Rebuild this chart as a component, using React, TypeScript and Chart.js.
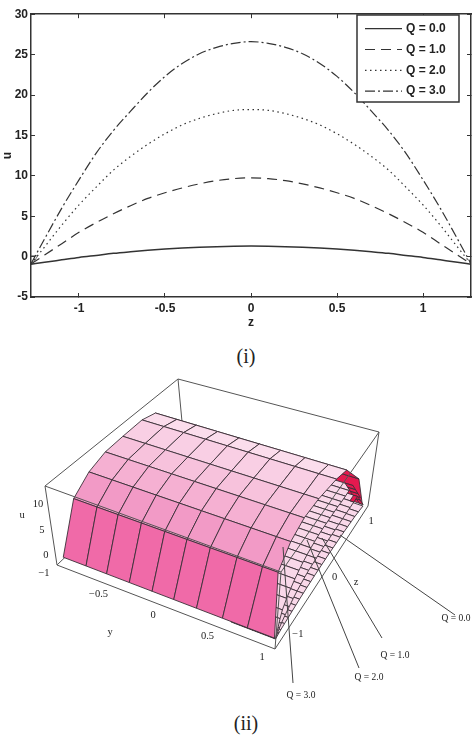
import React, { useEffect, useRef } from 'react';
import { Chart, registerables } from 'chart.js';

Chart.register(...registerables);

// panel (i)
const zValues = [-1.279, -1.2, -1.1, -1, -0.9, -0.8, -0.7, -0.6, -0.5, -0.4, -0.3, -0.2, -0.1, 0, 0.1, 0.2, 0.3, 0.4, 0.5, 0.6, 0.7, 0.8, 0.9, 1, 1.1, 1.2, 1.279];
const uQ0 = [-0.95, -0.7, -0.4, -0.1, 0.15, 0.4, 0.6, 0.78, 0.93, 1.05, 1.15, 1.23, 1.28, 1.3, 1.28, 1.23, 1.15, 1.05, 0.93, 0.78, 0.6, 0.4, 0.15, -0.1, -0.4, -0.7, -0.95];
const uQ1 = [-0.9, 0.2, 1.6, 3.0, 4.2, 5.3, 6.3, 7.2, 7.9, 8.5, 9.0, 9.4, 9.65, 9.75, 9.65, 9.4, 9.0, 8.5, 7.9, 7.2, 6.3, 5.3, 4.2, 3.0, 1.6, 0.2, -0.9];
const uQ2 = [-0.9, 1.2, 3.9, 6.4, 8.6, 10.7, 12.4, 13.9, 15.2, 16.3, 17.1, 17.7, 18.1, 18.2, 18.1, 17.7, 17.1, 16.3, 15.2, 13.9, 12.4, 10.7, 8.6, 6.4, 3.9, 1.2, -0.9];
const uQ3 = [-0.9, 2.2, 6.0, 9.5, 12.8, 15.6, 18.0, 20.3, 22.3, 23.9, 25.1, 25.9, 26.4, 26.6, 26.4, 25.9, 25.1, 23.9, 22.3, 20.3, 18.0, 15.6, 12.8, 9.5, 6.0, 2.2, -0.9];
const lineLabels = ['Q = 0.0', 'Q = 1.0', 'Q = 2.0', 'Q = 3.0'];
const lineDashes = [[], [10, 6], [1.5, 3.5], [10, 3, 2, 3]];
const cornerZ = [-1.279, -1.24, -1.27];
const cornerU = [0.1, 0.1, -0.9];

// panel (ii): surfaces
const gridY = [-1, -0.79, -0.6, -0.39, -0.18, 0.02, 0.23, 0.47, 0.7, 0.95];
const endY = [0.55, 0.75, 0.96];
const wedgeY2 = [0.88, 0.96];
const wedgeY1 = [0.92, 0.96];
const topRowsZ = [-1.14, -0.81, -0.48, -0.15, 0.19, 0.56, 0.81, 1.0, 1.23];
const topRowsU = [-1.2, 7.5, 10, 11.2, 11.4, 11.5, 10.6, 7.0, -1];
const topRowsEnd = [0.95, 0.84, 0.83, 0.83, 0.84, 0.87, 0.88, 0.95, 0.95];
const topRowColors = ['#F06AA8', '#F29AC6', '#F5B0D2', '#F7C2DC', '#F9CFE4', '#FBDDEC', '#E4194F', '#E4194F'];
const fineRowsZ = [-1.14, -1.05, -1, -0.9, -0.8, -0.7, -0.6, -0.5, -0.4, -0.3, -0.2, -0.1, 0, 0.1, 0.2, 0.3, 0.4, 0.5, 0.6, 0.7, 0.8, 0.9, 1.0, 1.1, 1.23];
const fineQ2 = [-1.2, 1.8, 3, 4.2, 5.1, 5.9, 6.5, 7, 7.4, 7.7, 7.9, 8.1, 8.2, 8.2, 8.2, 8.2, 8.2, 8.1, 8.1, 8.1, 8.0, 6, 4, 2, -1];
const fineQ1 = [-1.2, -0.1, 0.3, 0.9, 1.4, 1.9, 2.3, 2.6, 2.9, 3.1, 3.2, 3.3, 3.4, 3.4, 3.4, 3.4, 3.4, 3.4, 3.4, 3.4, 3.4, 3.4, 3.4, 1.5, -1];
const fineQ0 = [-1.3, -1.1, -1, -0.9, -0.8, -0.7, -0.6, -0.5, -0.45, -0.4, -0.35, -0.3, -0.3, -0.3, -0.3, -0.3, -0.35, -0.4, -0.45, -0.5, -0.6, -0.7, -0.8, -1, -1.3];
const yTicks = [-1, -0.5, 0, 0.5, 1];
const zTicks = [-1, 0, 1];
const uTicks = [0, 5, 10];
const leaderLabels = ['Q = 0.0', 'Q = 1.0', 'Q = 2.0', 'Q = 3.0'];
const leaderFrom = [[455, 615], [382, 638], [359, 668], [293, 683]];
const leaderTo = [[340, 535], [322, 538], [307, 540], [283, 547]];
const leaderText = [[456, 618], [395, 655], [369, 677], [301, 695]];

// screen position of the eight box corners
const boxBottom = { a: [57, 565], b: [275, 649], c: [368, 506], d: [184, 443] };
const boxTop = { a: [45, 486], b: [281, 572], c: [379, 432], d: [178, 379] };
const uLow = -1.5;
const uHigh = 14;
const zEdge = 1.27;
const yEdge = 1;

function project(y: number, z: number, u: number) {
  const ty = (y + yEdge) / (2 * yEdge);
  const tz = (z + zEdge) / (2 * zEdge);
  const tu = (u - uLow) / (uHigh - uLow);
  const plane = (c: { a: number[]; b: number[]; c: number[]; d: number[] }, i: number) =>
    (1 - ty) * (1 - tz) * c.a[i] + ty * (1 - tz) * c.b[i] + ty * tz * c.c[i] + (1 - ty) * tz * c.d[i];
  return {
    x: (1 - tu) * plane(boxBottom, 0) + tu * plane(boxTop, 0),
    y: (1 - tu) * plane(boxBottom, 1) + tu * plane(boxTop, 1),
  };
}

function edge(points: number[][]) {
  return {
    data: points.map((p) => project(p[0], p[1], p[2])),
    showLine: true,
    borderColor: '#555',
    borderWidth: 1,
    pointRadius: 0,
    fill: false,
  };
}

function cells(ys: number[], rowsZ: number[], rowsU: number[], colorOf: (row: number) => string, from: number, to: number, rowEnd?: number[]) {
  const out: any[] = [];
  const at = (c: number, r: number) => (rowEnd && c === ys.length - 1 ? rowEnd[r] : ys[c]);
  for (let r = to - 1; r >= from; r--) {
    for (let c = 0; c < ys.length - 1; c++) {
      out.push({
        data: [
          project(at(c, r), rowsZ[r], rowsU[r]),
          project(at(c + 1, r), rowsZ[r], rowsU[r]),
          project(at(c + 1, r + 1), rowsZ[r + 1], rowsU[r + 1]),
          project(at(c, r + 1), rowsZ[r + 1], rowsU[r + 1]),
          project(at(c, r), rowsZ[r], rowsU[r]),
        ],
        showLine: true,
        borderColor: '#3a3038',
        borderWidth: 0.9,
        backgroundColor: colorOf(r),
        pointRadius: 0,
        fill: 'shape',
      });
    }
  }
  return out;
}

const lineLegend = {
  id: 'lineLegend',
  afterDraw(chart: any) {
    const { ctx } = chart;
    ctx.save();
    ctx.fillStyle = '#fff';
    ctx.strokeStyle = '#333';
    ctx.lineWidth = 1.5;
    ctx.fillRect(357, 15, 102, 87);
    ctx.strokeRect(357, 15, 102, 87);
    ctx.font = 'bold 12px "Liberation Sans"';
    ctx.textBaseline = 'middle';
    lineLabels.forEach((label, i) => {
      const y = 28.7 + i * 20.8;
      ctx.beginPath();
      ctx.lineWidth = 1.2;
      ctx.setLineDash(lineDashes[i]);
      ctx.moveTo(365, y);
      ctx.lineTo(402, y);
      ctx.stroke();
      ctx.setLineDash([]);
      ctx.fillStyle = '#222';
      ctx.fillText(label, 406, y);
    });
    ctx.restore();
  },
};

const surfaceLabels = {
  id: 'surfaceLabels',
  afterDraw(chart: any) {
    const { ctx, scales } = chart;
    const put = (text: string, x: number, y: number) => ctx.fillText(text, scales.x.getPixelForValue(x), scales.y.getPixelForValue(y));
    ctx.save();
    ctx.fillStyle = '#222';
    ctx.font = '10.5px "Liberation Serif"';
    ctx.textAlign = 'center';
    ctx.textBaseline = 'middle';
    const minus = (v: number) => String(v).replace('-', '\u2212');
    yTicks.forEach((v) => {
      const p = project(v, -zEdge, uLow);
      put(minus(v), p.x - 13, p.y + 8);
    });
    zTicks.forEach((v) => {
      const p = project(yEdge, v, uLow);
      put(minus(v), p.x + 13, p.y);
    });
    uTicks.forEach((v) => {
      const p = project(-yEdge, -zEdge, v);
      put(minus(v), p.x - 10, p.y - 2);
    });
    put('u', 22, 515);
    put('y', 110, 632);
    put('z', 356, 582);
    ctx.font = '9.5px "Liberation Serif"';
    leaderLabels.forEach((label, i) => put(label, leaderText[i][0], leaderText[i][1]));
    ctx.restore();
  },
};

function LinePanel() {
  const ref = useRef<HTMLCanvasElement | null>(null);
  useEffect(() => {
    if (!ref.current) return;
    const series = [uQ0, uQ1, uQ2, uQ3];
    const frame = { color: '#333', width: 1.5 };
    const plain = (v: any) => String(v);
    const chart = new Chart(ref.current, {
      type: 'scatter',
      data: {
        datasets: [
          ...series.map((s, i) => ({
            label: lineLabels[i],
            data: zValues.map((z, k) => ({ x: z, y: s[k] })),
            showLine: true,
            borderColor: '#333',
            borderWidth: i === 0 ? 1.5 : 1.2,
            borderDash: lineDashes[i],
            pointRadius: 0,
            cubicInterpolationMode: 'monotone' as const,
          })),
          {
            label: 'corner',
            data: cornerZ.map((z, k) => ({ x: z, y: cornerU[k] })),
            showLine: true,
            borderColor: '#555',
            borderWidth: 0.8,
            pointRadius: 0,
          },
        ],
      },
      options: {
        animation: false,
        responsive: false,
        devicePixelRatio: 1,
        layout: { padding: { top: 6, right: 3 } },
        plugins: { legend: { display: false }, tooltip: { enabled: false } },
        scales: {
          x: {
            type: 'linear',
            min: -1.279,
            max: 1.279,
            afterFit: (s: any) => { s.height = 33; },
            grid: { drawOnChartArea: false, tickLength: -4, color: '#333' },
            border: frame,
            ticks: { stepSize: 0.5, includeBounds: false, maxRotation: 0, padding: 8, color: '#222', callback: plain, font: { family: 'Liberation Sans', size: 12, weight: 'bold' } },
            title: { display: true, text: 'z', color: '#222', padding: 0, font: { family: 'Liberation Sans', size: 12, weight: 'bold' } },
          },
          y: {
            type: 'linear',
            min: -5,
            max: 30,
            afterFit: (s: any) => { s.width = 31; },
            grid: { drawOnChartArea: false, tickLength: -4, color: '#333' },
            border: frame,
            ticks: { stepSize: 5, includeBounds: false, padding: 7, color: '#222', callback: plain, font: { family: 'Liberation Sans', size: 12, weight: 'bold' } },
            title: { display: true, text: 'u', color: '#222', padding: 0, font: { family: 'Liberation Sans', size: 12, weight: 'bold' } },
          },
          x2: {
            type: 'linear',
            position: 'top',
            min: -1.279,
            max: 1.279,
            afterFit: (s: any) => { s.height = 0; },
            grid: { drawOnChartArea: false, tickLength: -4, color: '#333' },
            border: frame,
            ticks: { stepSize: 0.5, includeBounds: false, display: false },
          },
          y2: {
            type: 'linear',
            position: 'right',
            min: -5,
            max: 30,
            afterFit: (s: any) => { s.width = 0; },
            grid: { drawOnChartArea: false, tickLength: -4, color: '#333' },
            border: frame,
            ticks: { stepSize: 5, includeBounds: false, display: false },
          },
        },
      },
      plugins: [lineLegend],
    } as any);
    return () => chart.destroy();
  }, []);
  return <canvas ref={ref} width={474} height={330} style={{ position: 'absolute', left: 0, top: 0 }} />;
}

function SurfacePanel() {
  const ref = useRef<HTMLCanvasElement | null>(null);
  useEffect(() => {
    if (!ref.current) return;
    const pale = () => '#F9D8E9';
    const red = () => '#E4194F';
    const topColor = (r: number) => topRowColors[r];
    const yL = -yEdge, yH = yEdge, zL = -zEdge, zH = zEdge;
    const last = fineRowsZ.length - 1;
    const ordered = [
      // back of the box
      edge([[yL, zH, uLow], [yL, zH, uHigh]]),
      edge([[yL, zL, uHigh], [yL, zH, uHigh], [yH, zH, uHigh], [yH, zH, uLow]]),
      edge([[yL, zL, uHigh], [yL, zL, uLow], [yH, zL, uLow], [yH, zH, uLow]]),
      edge([[yL, zL, uLow], [yL, zH, uLow]]),
      // undersides seen past the crest
      ...cells(gridY, topRowsZ, topRowsU, topColor, 6, topRowsZ.length - 1, topRowsEnd),
      // upper faces, low surface first
      ...cells(endY, fineRowsZ, fineQ0, pale, 0, last),
      ...cells(endY, fineRowsZ, fineQ1, pale, 0, 22),
      ...cells(endY, fineRowsZ, fineQ2, pale, 0, 20),
      ...cells(wedgeY2, fineRowsZ, fineQ2, red, 20, 23),
      ...cells(wedgeY1, fineRowsZ, fineQ1, red, 21, 24),
      ...cells(gridY, topRowsZ, topRowsU, topColor, 0, 6, topRowsEnd),
      // front of the box
      edge([[yL, zL, uHigh], [yH, zL, uHigh], [yH, zH, uHigh]]),
      edge([[yH, zL, uLow], [yH, zL, uHigh]]),
      ...leaderFrom.map((from, i) => ({
        data: [{ x: from[0], y: from[1] }, { x: leaderTo[i][0], y: leaderTo[i][1] }],
        showLine: true,
        borderColor: '#444',
        borderWidth: 1,
        pointRadius: 0,
        fill: false,
      })),
    ];
    const chart = new Chart(ref.current, {
      type: 'scatter',
      data: { datasets: ordered.map((d, i) => ({ ...d, order: ordered.length - i })) },
      options: {
        animation: false,
        responsive: false,
        devicePixelRatio: 1,
        plugins: { legend: { display: false }, tooltip: { enabled: false } },
        scales: {
          x: { type: 'linear', display: false, min: 0, max: 474 },
          y: { type: 'linear', display: false, reverse: true, min: 370, max: 710 },
        },
      },
      plugins: [surfaceLabels],
    } as any);
    return () => chart.destroy();
  }, []);
  return <canvas ref={ref} width={474} height={340} style={{ position: 'absolute', left: 0, top: 370 }} />;
}

const captionStyle: React.CSSProperties = {
  position: 'absolute',
  left: 0,
  width: 492,
  textAlign: 'center',
  fontFamily: 'Liberation Serif',
  fontSize: 20,
  color: '#222',
};

export default function App() {
  return (
    <div style={{ position: 'absolute', left: 0, top: 0, width: 474, height: 739, background: '#fff' }}>
      <LinePanel />
      <div style={{ ...captionStyle, top: 345 }}>(i)</div>
      <SurfacePanel />
      <div style={{ ...captionStyle, top: 712 }}>(ii)</div>
    </div>
  );
}
